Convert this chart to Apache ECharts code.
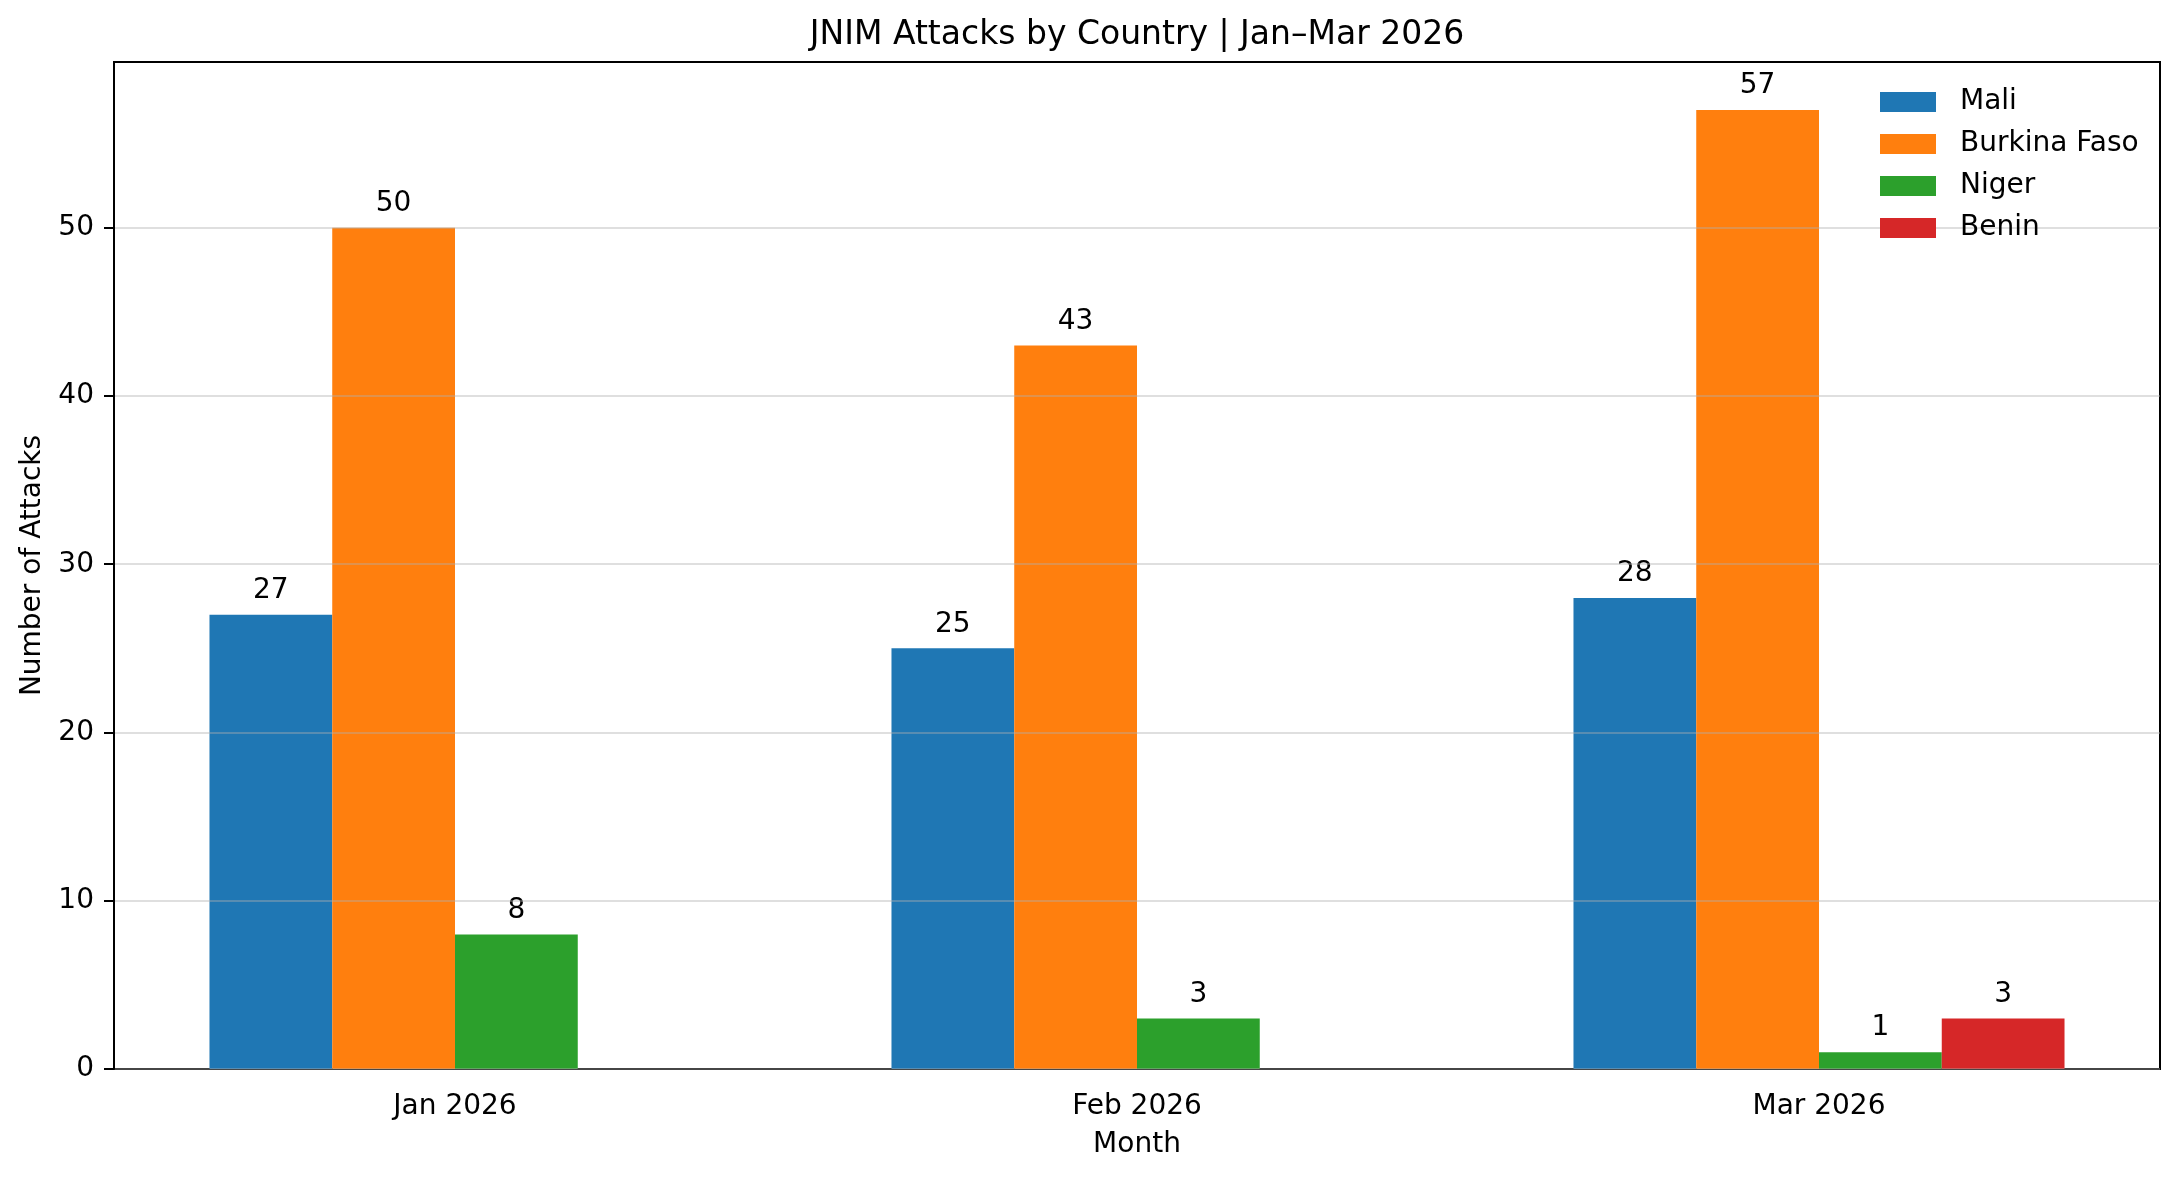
<!DOCTYPE html>
<html>
<head>
<meta charset="utf-8">
<title>JNIM Attacks by Country</title>
<script src="https://cdn.jsdelivr.net/npm/echarts@6/dist/echarts.min.js"></script>
<style>
  html, body { margin: 0; padding: 0; background: #fff; }
  #chart { width: 2180px; height: 1177px; }
</style>
</head>
<body>
<div id="chart"></div>
<script>
// data
var months = ['Jan 2026', 'Feb 2026', 'Mar 2026'];
var mali = [27, 25, 28];
var burkina = [50, 43, 57];
var niger = [8, 3, 1];
var benin = ['-', '-', 3];
var yTicks = [0, 10, 20, 30, 40, 50];

var font = 'DejaVu Sans';

var barSeries = function (name, data, color) {
    return {
        name: name,
        type: 'bar',
        data: data,
        barWidth: '18%',
        barGap: '0%',
        itemStyle: { color: color },
        label: {
            show: true,
            position: 'top',
            distance: 10,
            color: '#000',
            fontFamily: font,
            fontSize: 28
        }
    };
};

var option = {
    animation: false,
    textStyle: { fontFamily: font },
    title: {
        text: 'JNIM Attacks by Country | Jan\u2013Mar 2026',
        left: 1132,
        top: 14,
        textAlign: 'center',
        textStyle: { fontFamily: font, fontSize: 33, fontWeight: 'normal', color: '#000' }
    },
    legend: {
        orient: 'vertical',
        left: 1875,
        top: 83,
        icon: 'rect',
        itemWidth: 56,
        itemHeight: 20,
        itemGap: 14,
        textStyle: { fontFamily: font, fontSize: 28, color: '#000', padding: [0, 0, 0, 19] },
        data: ['Mali', 'Burkina Faso', 'Niger', 'Benin']
    },
    grid: {
        left: 114,
        right: 20,
        top: 62,
        bottom: 108,
        show: true,
        borderColor: '#000',
        borderWidth: 2
    },
    xAxis: {
        type: 'category',
        data: months,
        name: 'Month',
        nameLocation: 'middle',
        nameGap: 62,
        nameTextStyle: { fontFamily: font, fontSize: 28, color: '#000' },
        axisLine: { lineStyle: { color: '#000', width: 2 } },
        axisTick: { alignWithLabel: true, length: 10, lineStyle: { color: '#000', width: 2 } },
        axisLabel: { margin: 24, fontFamily: font, fontSize: 28, color: '#000' }
    },
    yAxis: {
        type: 'value',
        min: 0,
        max: 59.85,
        interval: 10,
        z: 3,
        name: 'Number of Attacks',
        nameLocation: 'middle',
        nameGap: 67,
        nameTextStyle: { fontFamily: font, fontSize: 28, color: '#000' },
        axisLine: { show: true, lineStyle: { color: '#000', width: 2 } },
        axisTick: { show: true, length: 10, customValues: yTicks, lineStyle: { color: '#000', width: 2 } },
        axisLabel: { margin: 20, customValues: yTicks, fontFamily: font, fontSize: 28, color: '#000' },
        splitLine: { show: true, lineStyle: { color: 'rgba(176,176,176,0.4)', width: 2 } }
    },
    series: [
        barSeries('Mali', mali, '#1f77b4'),
        barSeries('Burkina Faso', burkina, '#ff7f0e'),
        barSeries('Niger', niger, '#2ca02c'),
        barSeries('Benin', benin, '#d62728')
    ]
};

var myChart = echarts.init(document.getElementById('chart'));
myChart.setOption(option);
</script>
</body>
</html>
